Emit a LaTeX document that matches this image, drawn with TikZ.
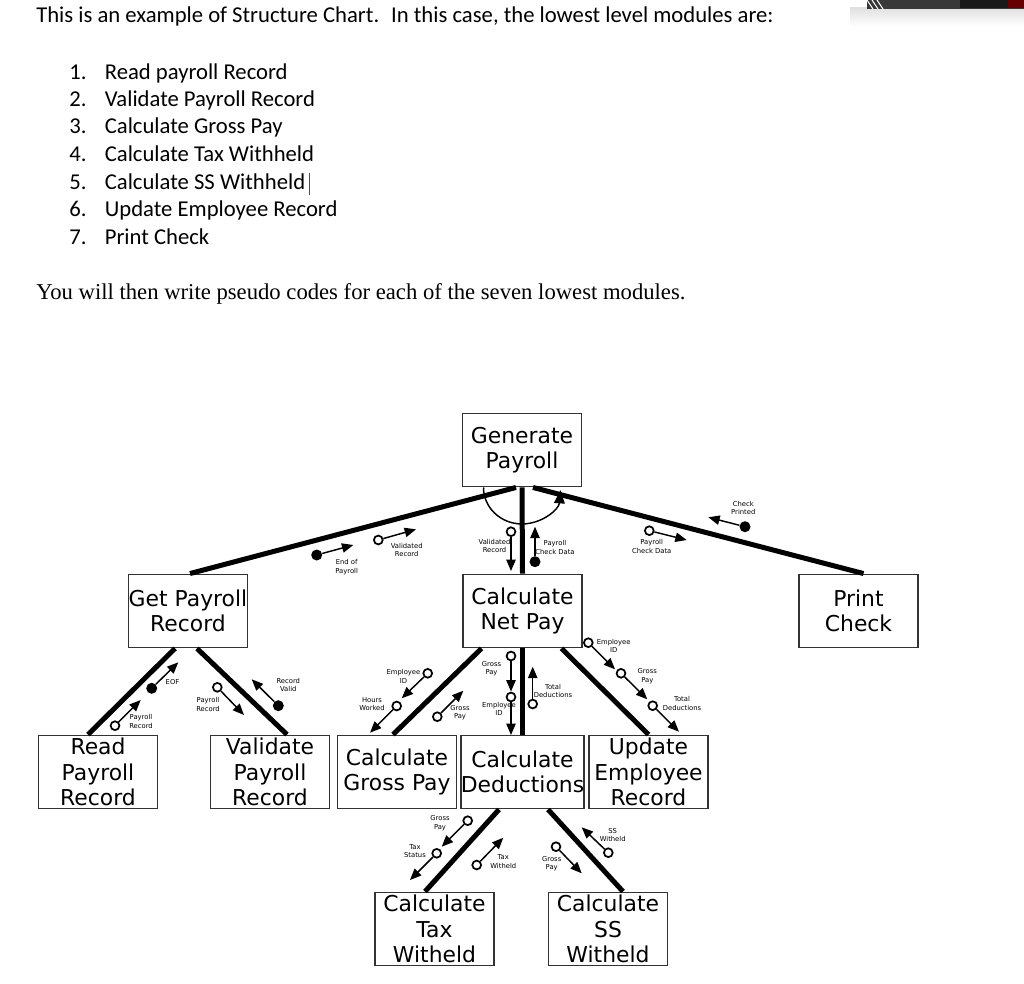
\documentclass[tikz,border=0pt]{standalone}
\usepackage{fontspec}
\setmainfont{DejaVu Sans}
\newfontfamily\calibrifont{Carlito}
\newfontfamily\serifont{Liberation Serif}
\newfontfamily\dejavu{DejaVu Sans}
\usetikzlibrary{arrows.meta,calc}
\begin{document}
\begin{tikzpicture}[x=0.75pt,y=-0.75pt,
  box/.style={draw=black!80, line width=1.2pt, minimum width=89pt, minimum height=55pt, inner sep=0pt, align=center,
    font=\dejavu\fontsize{16.4pt}{19pt}\selectfont},
  heavy/.style={line width=3.75pt},
  couple/.style={line width=1.1pt, -{Triangle[length=8.5pt,width=7pt]}},
  odot/.style={circle, draw, line width=1.3pt, fill=white, minimum size=6.6pt, inner sep=0pt},
  fdot/.style={circle, fill=black, minimum size=8.25pt, inner sep=0pt},
  lbl/.style={font=\dejavu\fontsize{5.1pt}{6.4pt}\selectfont, align=center, inner sep=0pt},
  body/.style={anchor=base west, inner sep=0pt, font=\calibrifont\fontsize{17pt}{20pt}\selectfont},
  serifline/.style={anchor=base west, inner sep=0pt, font=\serifont\fontsize{17pt}{20pt}\selectfont}
]
\useasboundingbox (0,0) rectangle (1024,984);

% screenshot bar top right
\shade[top color=black!12, bottom color=white] (850,8) rectangle (1024,26);
\fill[black!78] (867,0) rectangle (1024,9);
\foreach \s in {0,5,10} {\draw[white, line width=0.8pt] (867+\s,0) -- (873+\s,9);}
\fill[black!90] (960,0) rectangle (1024,8);
\fill[red!40!black] (1008,0) rectangle (1024,8);

% intro text
\node[body] (intro) at (36,22.7) {This is an example of Structure Chart.~ In this case, the lowest level modules are:};
\node[body] (n1) at (69,79.3) {1.};   \node[body] (i1) at (104.6,79.3) {Read payroll Record};
\node[body] (n2) at (69,106.3) {2.};  \node[body] (i2) at (104.6,106.3) {Validate Payroll Record};
\node[body] (n3) at (69,133.5) {3.};  \node[body] (i3) at (104.6,133.5) {Calculate Gross Pay};
\node[body] (n4) at (69,161.5) {4.};  \node[body] (i4) at (104.6,161.5) {Calculate Tax Withheld};
\node[body] (n5) at (69,189.2) {5.};  \node[body] (i5) at (104.6,189.2) {Calculate SS Withheld};
\node[body] (n6) at (69,216.8) {6.};  \node[body] (i6) at (104.6,216.8) {Update Employee Record};
\node[body] (n7) at (69,244.6) {7.};  \node[body] (i7) at (104.6,244.6) {Print Check};
\coordinate (cur1) at (309.7,173); \coordinate (cur2) at (309.7,195);
\draw[line width=0.6pt, black!70] (cur1) -- (cur2);
\node[serifline] (you) at (36,300) {You will then write pseudo codes for each of the seven lowest modules.};

% modules
\node[box] (GP)  at (522,450)   {Generate\\Payroll};
\node[box] (GPR) at (188,611)   {Get Payroll\\Record};
\node[box] (CNP) at (522.5,611) {Calculate\\Net Pay};
\node[box] (PC)  at (858.5,611) {Print\\Check};
\node[box] (RPR) at (98,772)    {Read\\Payroll\\Record};
\node[box] (VPR) at (270,772)   {Validate\\Payroll\\Record};
\node[box] (CGP) at (397,772)   {Calculate\\Gross Pay};
\node[box] (CD)  at (522.5,772) {Calculate\\Deductions};
\node[box] (UER) at (648.5,772) {Update\\Employee\\Record};
\node[box] (CTW) at (434.5,929) {Calculate\\Tax\\Witheld};
\node[box] (CSW) at (608,929)   {Calculate\\SS\\Witheld};

% calls
\draw[heavy] ($(GP.south)+(-6,0)$) -- ($(GPR.north)+(2,0)$);
\draw[heavy] (GP.south) -- (CNP.north);
\draw[heavy] ($(GP.south)+(11,0)$) -- ($(PC.north)+(5,0)$);
\draw[heavy] ($(GPR.south)+(-13,0)$) -- ($(RPR.north)+(-10,0)$);
\draw[heavy] ($(GPR.south)+(9,0)$) -- ($(VPR.north)+(17,0)$);
\draw[heavy] ($(CNP.south)+(-41,0)$) -- ($(CGP.north)+(-4,0)$);
\draw[heavy] (CNP.south) -- (CD.north);
\draw[heavy] ($(CNP.south)+(39,0)$) -- (UER.north);
\draw[heavy] ($(CD.south)+(-23.5,0)$) -- ($(CTW.north)+(-9.5,0)$);
\draw[heavy] ($(CD.south)+(25.5,0)$) -- ($(CSW.north)+(15,0)$);

% iteration arc
\draw[line width=1.1pt, -{Triangle[length=10pt,width=8pt]}] ($(GP.south)+(-38.5,0)$) arc (180:4:38.5 and 36.5);

% couples
\node[fdot] (ca) at (316.7,555) {};   \coordinate (ta) at (353.3,545);   \draw[couple] (ca) -- (ta);
\node[lbl] (la) at (346.7,567) {End of\\Payroll};
\node[odot] (cb) at (378.3,540) {};   \coordinate (tb) at (416,529.3);   \draw[couple] (cb) -- (tb);
\node[lbl] (lb) at (406.7,550) {Validated\\Record};
\node[odot] (cc) at (511,531.7) {};   \coordinate (tc) at (511,571);     \draw[couple] (cc) -- (tc);
\node[lbl] (lc) at (494.5,546) {Validated\\Record};
\node[fdot] (cd) at (535,561.7) {};   \coordinate (td) at (535,526.7);   \draw[couple] (cd) -- (td);
\node[lbl] (ld) at (555,547.5) {Payroll\\Check Data};
\node[odot] (ce) at (649.3,530.7) {}; \coordinate (te) at (686.7,540);   \draw[couple] (ce) -- (te);
\node[lbl] (le) at (651.7,546.5) {Payroll\\Check Data};
\node[fdot] (cf) at (745,526.7) {};   \coordinate (tf) at (708.3,517.3); \draw[couple] (cf) -- (tf);
\node[lbl] (lf) at (743.3,508) {Check\\Printed};

\node[odot] (cg) at (115,725.7) {};   \coordinate (tg) at (140.7,700);   \draw[couple] (cg) -- (tg);
\node[lbl] (lg) at (141,721.7) {Payroll\\Record};
\node[fdot] (ch) at (151.7,688.3) {}; \coordinate (th) at (178.3,662.3); \draw[couple] (ch) -- (th);
\node[lbl] (lh) at (172.5,682.3) {EOF};
\node[odot] (ci) at (217.3,687.3) {}; \coordinate (ti) at (244,715);     \draw[couple] (ci) -- (ti);
\node[lbl] (li) at (208,704.5) {Payroll\\Record};
\node[fdot] (cj) at (278.3,705.7) {}; \coordinate (tj) at (251.7,679.3); \draw[couple] (cj) -- (tj);
\node[lbl] (lj) at (288.3,685) {Record\\Valid};

\node[odot] (ck1) at (427.7,673.3) {}; \coordinate (tk1) at (401.7,698.3);
\node[odot] (ck2) at (396.7,706) {};   \coordinate (tk2) at (370,732.7);
\draw[couple] (ck1) -- (tk1); \draw[couple] (ck2) -- (tk2);
\node[lbl] (lk1) at (403.5,676.5) {Employee\\ID};
\node[lbl] (lk2) at (372,704) {Hours\\Worked};
\node[odot] (cl) at (437.3,716.7) {}; \coordinate (tl) at (463.3,690.7); \draw[couple] (cl) -- (tl);
\node[lbl] (ll) at (460,712.8) {Gross\\Pay};

\node[odot] (cm1) at (511,656) {};   \coordinate (tm1) at (511,691.5);
\node[odot] (cm2) at (511,697) {};   \coordinate (tm2) at (511,735);
\draw[couple] (cm1) -- (tm1); \draw[couple] (cm2) -- (tm2);
\node[lbl] (lm1) at (491.5,668.8) {Gross\\Pay};
\node[lbl] (lm2) at (499,709) {Employee\\ID};
\node[odot] (cn) at (532.7,704) {};  \coordinate (tn) at (532.7,666.7); \draw[couple] (cn) -- (tn);
\node[lbl] (ln) at (553,691) {Total\\Deductions};

\node[odot] (co1) at (588.3,642.7) {}; \coordinate (to1) at (615,669.3);
\node[odot] (co2) at (621,673.3) {};   \coordinate (to2) at (647.3,699.3);
\node[odot] (co3) at (652.7,705.7) {}; \coordinate (to3) at (679,731.7);
\draw[couple] (co1) -- (to1); \draw[couple] (co2) -- (to2); \draw[couple] (co3) -- (to3);
\node[lbl] (lo1) at (613.7,646) {Employee\\ID};
\node[lbl] (lo2) at (647.3,676) {Gross\\Pay};
\node[lbl] (lo3) at (682,703.3) {Total\\Deductions};

\node[odot] (cp1) at (467.7,820.7) {}; \coordinate (tp1) at (441.7,846.7);
\node[odot] (cp2) at (436.7,853.3) {}; \coordinate (tp2) at (410,880);
\draw[couple] (cp1) -- (tp1); \draw[couple] (cp2) -- (tp2);
\node[lbl] (lp1) at (440,823.3) {Gross\\Pay};
\node[lbl] (lp2) at (415,851) {Tax\\Status};
\node[odot] (cq) at (476.7,865) {};   \coordinate (tq) at (503.3,837.7); \draw[couple] (cq) -- (tq);
\node[lbl] (lq) at (503.3,861.5) {Tax\\Witheld};
\node[odot] (cr) at (556,846.7) {};   \coordinate (tr) at (581.7,873.3); \draw[couple] (cr) -- (tr);
\node[lbl] (lr) at (551.7,863.8) {Gross\\Pay};
\node[odot] (cs) at (608.3,852.7) {}; \coordinate (ts) at (581.7,827.3); \draw[couple] (cs) -- (ts);
\node[lbl] (ls) at (612.7,835) {SS\\Witheld};
\end{tikzpicture}
\end{document}
